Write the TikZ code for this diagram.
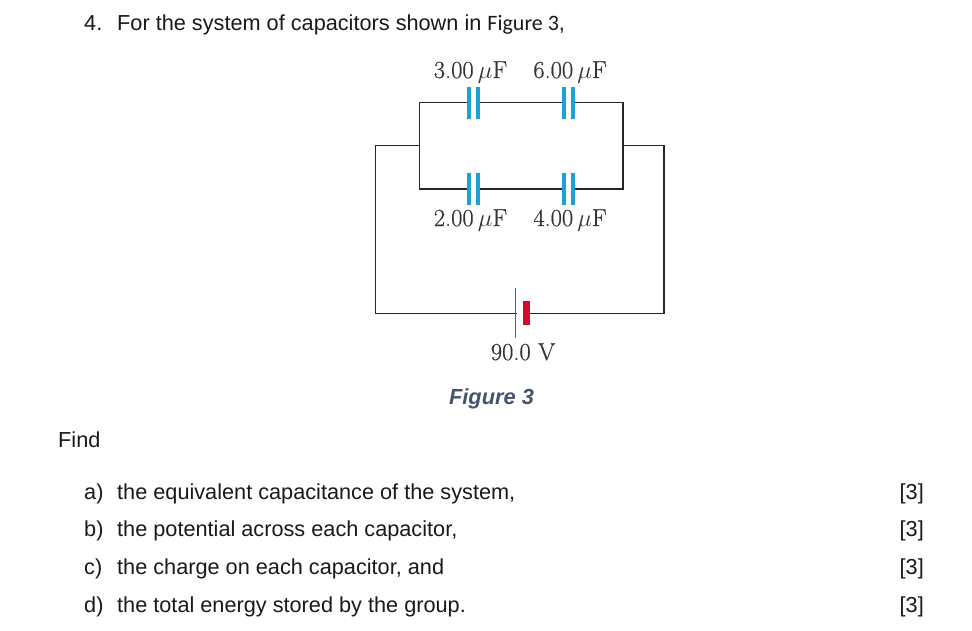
\documentclass[tikz,border=0pt]{standalone}
\usepackage{fontspec}
\setmainfont{Liberation Sans}
\newfontfamily\carlitofont{Carlito}
\newfontfamily\serifface[FakeBold=0.6]{Latin Modern Roman}
\tikzset{
  x=1pt,y=-1pt,
  wire/.style={draw=black!85,line width=1.2pt},
  bodytext/.style={inner sep=0pt,anchor=base west,font=\fontsize{21.7}{24}\selectfont,text=black!90},
  marktext/.style={inner sep=0pt,anchor=base east,font=\fontsize{21.7}{24}\selectfont,text=black!90},
  vallabel/.style={inner sep=0pt,anchor=base,font=\fontsize{24.5}{24}\selectfont\serifface,text=black!80},
}
\definecolor{platecol}{RGB}{27,160,215}
\definecolor{batred}{RGB}{205,15,45}
\definecolor{batthin}{RGB}{175,70,100}
\definecolor{figcol}{RGB}{68,84,106}
\begin{document}
\begin{tikzpicture}
\useasboundingbox (0,0) rectangle (972,630);
% corners
\coordinate (oTL) at (375.5,145.5);
\coordinate (oTR) at (664,145.5);
\coordinate (oBL) at (375.5,313.5);
\coordinate (oBR) at (664,313.5);
\coordinate (iL) at (419.5,145.5);
\coordinate (iR) at (623,145.5);
\coordinate (iTL) at (419.5,102.5);
\coordinate (iTR) at (623,102.5);
\coordinate (iBL) at (419.5,189);
\coordinate (iBR) at (623,189);
\coordinate (c1) at (473.5,102.5);
\coordinate (c2) at (568.5,102.5);
\coordinate (c3) at (473.5,189);
\coordinate (c4) at (568.5,189);
\coordinate (bat) at (520,313.5);
% wires
\draw[wire,line join=miter] (iL) -- (oTL) -- (oBL) -- (bat) -- (oBR) -- (oTR) -- (iR);
\draw[wire,line join=miter] (iBL) -- (iTL) -- (iTR) -- (iBR) -- cycle;
% capacitors
\foreach \c/\h in {c1/16,c2/16,c3/16,c4/16}{
  \fill[white] ([xshift=-2.4pt,yshift=-3pt]\c) rectangle ([xshift=2.6pt,yshift=3pt]\c);
  \fill[platecol] ([xshift=-6.8pt,yshift=-\h pt]\c) rectangle ([xshift=-2.4pt,yshift=\h pt]\c);
  \fill[platecol] ([xshift=2.6pt,yshift=-\h pt]\c) rectangle ([xshift=6.2pt,yshift=\h pt]\c);
}
% battery
\fill[white] (516.5,305) rectangle (523,322);
\draw[batthin,line width=1.1pt] (515.8,288) -- (515.8,338);
\fill[batred] (523.3,301) rectangle (530,325);
% labels
\node[vallabel] (l1) at (470.5,78) {3.00\,$\mu$F};
\node[vallabel] (l2) at (570,78) {6.00\,$\mu$F};
\node[vallabel] (l3) at (470.5,226) {2.00\,$\mu$F};
\node[vallabel] (l4) at (570,226) {4.00\,$\mu$F};
\node[vallabel] (l5) at (523,360) {90.0 V};
\node[inner sep=0pt,anchor=base,font=\fontsize{21.8}{24}\selectfont\bfseries\itshape,text=figcol] (fig) at (491.5,404) {Figure 3};
% text
\node[bodytext] (n4) at (84,30) {4.};
\node[bodytext] (q) at (117,30) {For the system of capacitors shown in {\carlitofont\fontsize{22}{24}\selectfont Figure 3},};
\node[bodytext] (find) at (58,447) {Find};
\node[bodytext] (a) at (84,499) {a)};
\node[bodytext] (at) at (117,499) {the equivalent capacitance of the system,};
\node[bodytext] (b) at (84,536.5) {b)};
\node[bodytext] (bt) at (117,536.5) {the potential across each capacitor,};
\node[bodytext] (c) at (84,574) {c)};
\node[bodytext] (ct) at (117,574) {the charge on each capacitor, and};
\node[bodytext] (d) at (84,612) {d)};
\node[bodytext] (dt) at (117,612) {the total energy stored by the group.};
\node[marktext] (m1) at (924,499) {[3]};
\node[marktext] (m2) at (924,536.5) {[3]};
\node[marktext] (m3) at (924,574) {[3]};
\node[marktext] (m4) at (924,612) {[3]};
\end{tikzpicture}
\end{document}
